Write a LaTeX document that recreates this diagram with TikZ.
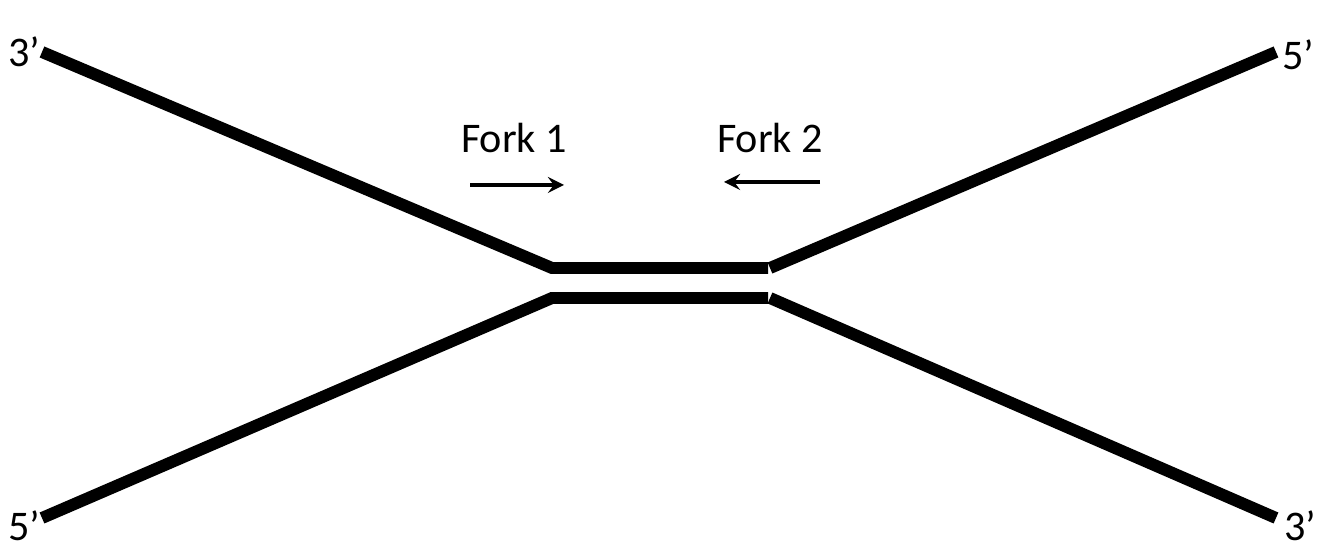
\documentclass[tikz,border=0pt]{standalone}
\usepackage{fontspec}
\setmainfont{Carlito}
\begin{document}
\begin{tikzpicture}[x=0.01cm,y=-0.01cm,
  strand/.style={line width=3.4pt},
  lbl/.style={font=\fontsize{12pt}{14pt}\selectfont, inner sep=0pt},
  dir/.style={line width=1pt,-stealth}]
\useasboundingbox (0,0) rectangle (1326,552);
\coordinate (tl) at (42,52);
\coordinate (tm1) at (552,268);
\coordinate (tm2) at (768,268);
\coordinate (tr) at (1276,52);
\coordinate (bl) at (42,518);
\coordinate (bm1) at (552,298);
\coordinate (bm2) at (768,298);
\coordinate (br) at (1276,518);
\draw[strand] (tl) -- (tm1) -- (tm2);
\draw[strand] (770,268) -- (tr);
\draw[strand] (bl) -- (bm1) -- (bm2);
\draw[strand] (770,298) -- (br);
\node[lbl] (l1) at (24,52) {3’};
\node[lbl] (l2) at (1298,55) {5’};
\node[lbl] (l3) at (24,526) {5’};
\node[lbl] (l4) at (1300,526) {3’};
\node[lbl] (f1) at (514,138) {Fork 1};
\node[lbl] (f2) at (770,138) {Fork 2};
\coordinate (a1s) at (470,185);
\coordinate (a1e) at (564,185);
\coordinate (a2s) at (820,182);
\coordinate (a2e) at (724,182);
\draw[dir] (a1s) -- (a1e);
\draw[dir] (a2s) -- (a2e);
\end{tikzpicture}
\end{document}
